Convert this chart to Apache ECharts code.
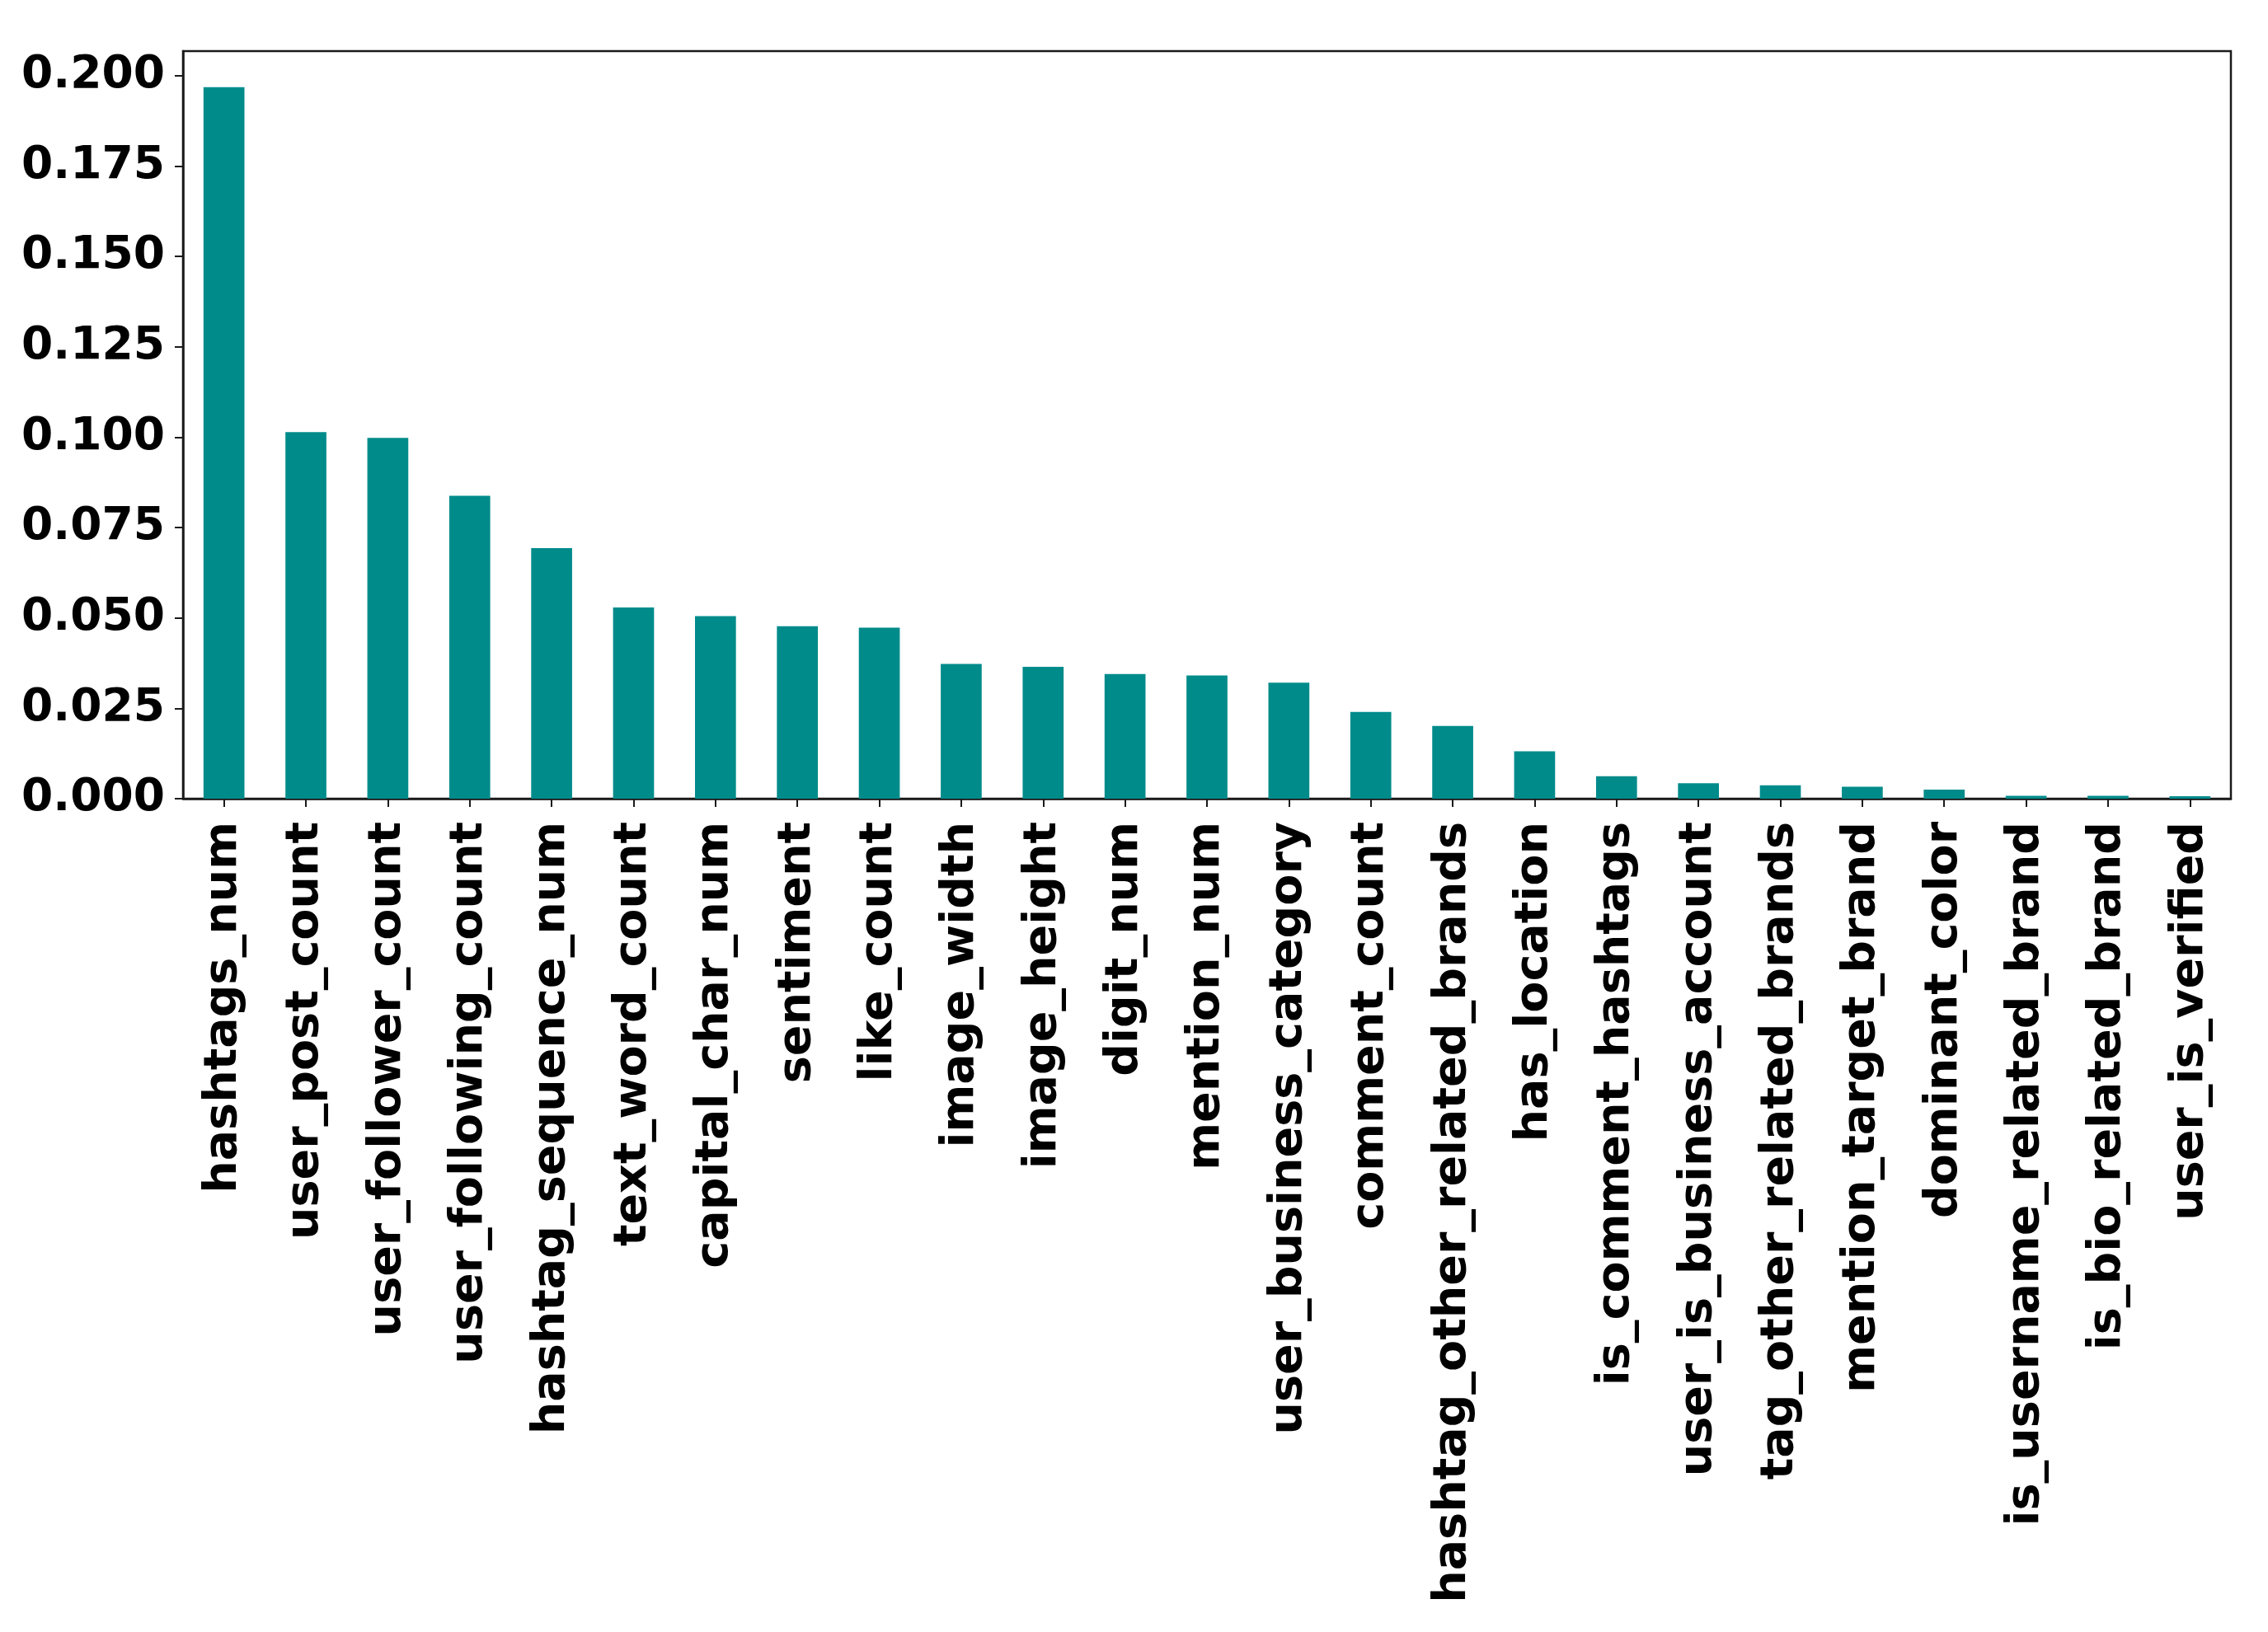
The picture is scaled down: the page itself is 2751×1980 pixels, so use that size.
<!DOCTYPE html>
<html>
<head>
<meta charset="utf-8">
<script src="https://cdn.jsdelivr.net/npm/echarts@6/dist/echarts.min.js"></script>
<style>
html,body{margin:0;padding:0;background:#fff;}
#chart{width:2751px;height:1980px;}
</style>
</head>
<body>
<div id="chart"></div>
<script>
const categories = [
  "hashtags_num","user_post_count","user_follower_count","user_following_count",
  "hashtag_sequence_num","text_word_count","capital_char_num","sentiment",
  "like_count","image_width","image_height","digit_num","mention_num",
  "user_business_category","comment_count","hashtag_other_related_brands",
  "has_location","is_comment_hashtags","user_is_business_account",
  "tag_other_related_brands","mention_target_brand","dominant_color",
  "is_username_related_brand","is_bio_related_brand","user_is_verified"
];
const importances = [
  0.1968, 0.1014, 0.0998, 0.0838, 0.0693, 0.0529, 0.0505, 0.0477,
  0.0473, 0.0373, 0.0365, 0.0345, 0.0341, 0.0321, 0.0240, 0.0201,
  0.0131, 0.0062, 0.0043, 0.0037, 0.0033, 0.0025, 0.0008, 0.0008, 0.0007
];
const yTicks = [0, 0.025, 0.05, 0.075, 0.1, 0.125, 0.15, 0.175, 0.2];
const yMax = 0.2068;

const chart = echarts.init(document.getElementById('chart'), null, {renderer: 'canvas'});
const font = 'DejaVu Sans';
chart.setOption({
  animation: false,
  backgroundColor: '#ffffff',
  grid: {
    left: 222, right: 45, top: 62, bottom: 1011,
    show: true, borderColor: '#1a1a1a', borderWidth: 2.5, backgroundColor: 'transparent'
  },
  xAxis: {
    type: 'category',
    data: categories,
    boundaryGap: true,
    axisLine: {show: true, lineStyle: {color: '#1a1a1a', width: 2.5}},
    axisTick: {show: true, alignWithLabel: true, length: 10, lineStyle: {color: '#1a1a1a', width: 2}},
    axisLabel: {
      interval: 0, rotate: 90, margin: 28,
      fontFamily: font, fontWeight: 'bold', fontSize: 55.5, color: '#000'
    },
    splitLine: {show: false}
  },
  yAxis: {
    type: 'value',
    min: 0, max: yMax, interval: 0.025,
    axisLine: {show: true, lineStyle: {color: '#1a1a1a', width: 2.5}},
    axisTick: {show: true, length: 10, lineStyle: {color: '#1a1a1a', width: 2}, customValues: yTicks},
    axisLabel: {
      margin: 22, customValues: yTicks, padding: [7, 0, 0, 0],
      fontFamily: font, fontWeight: 'bold', fontSize: 55, color: '#000',
      formatter: v => v.toFixed(3)
    },
    splitLine: {show: false}
  },
  series: [{
    type: 'bar',
    data: importances,
    barWidth: '50%',
    itemStyle: {color: '#008b8b'}
  }]
});
</script>
</body>
</html>
